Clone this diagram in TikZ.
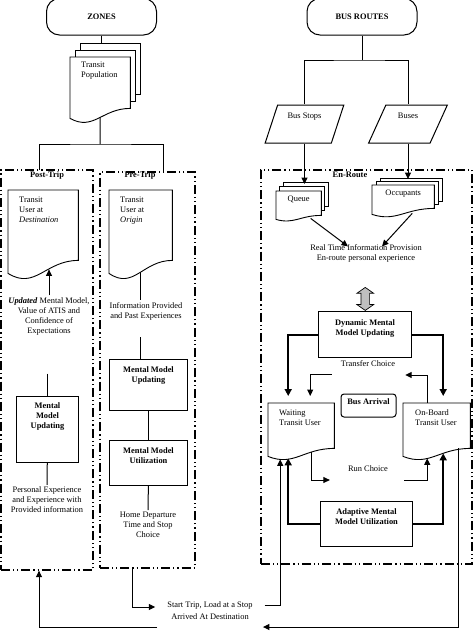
\documentclass[tikz,border=0pt]{standalone}
\usepackage{fontspec}
\setmainfont{Liberation Serif}
\usetikzlibrary{calc,arrows.meta,shapes.geometric,shapes.arrows,backgrounds}

\newcommand{\smallfont}{\fontsize{8.4}{10}\selectfont}
% text box of fixed size, text starting at its top
\newcommand{\toptxt}[4][6.5pt]{\parbox[c][#2][t]{#3}{\vspace*{#1}#4}}
% outline of a document sheet drawn round a node
\newcommand{\pageoutline}[2]{%
  \begin{pgfonlayer}{background}
    \draw[page] (#1.north west) -- (#1.north east) -- (#1.south east)
      .. controls ($(#1.south west)!0.53!(#1.south east)$)
      and ($(#1.south west)!0.39!(#1.south east)+(0,2.3*#2)$)
      .. ($(#1.south west)+(0,#2)$) -- cycle;
  \end{pgfonlayer}}
% the sheets stacked behind a document
\newcommand{\backpages}[3]{%
  \begin{pgfonlayer}{background}
    \foreach \k in {2,1}
      \draw[page] ($(#1.north west)+(\k*#2,\k*#3)$) rectangle ($(#1.south east)+(\k*#2,\k*#3)$);
  \end{pgfonlayer}}

\tikzstyle{link} = [draw,line width=1pt]
\tikzstyle{flow} = [link,-{Triangle[length=6.5pt,width=6pt]}]
\tikzstyle{heavy flow} = [draw,line width=2pt,-{Triangle[length=7pt,width=7pt]}]
\tikzstyle{page} = [draw,fill=white,line width=0.9pt]
\tikzstyle{sheet} = [inner sep=0pt,anchor=north west]
\tikzstyle{panel} = [draw,line width=1pt,inner sep=0pt,anchor=north west]
\tikzstyle{note} = [align=center,inner sep=2pt]
\tikzstyle{phase} = [draw,line width=1.3pt,inner sep=0pt,dash pattern=on 9pt off 3pt on 1.2pt off 3pt on 1.2pt off 3pt]
\tikzstyle{phase title} = [font=\smallfont\bfseries]
\tikzstyle{terminal} = [draw,line width=1pt,rounded corners=13pt,minimum width=110pt,minimum height=36.5pt,font=\smallfont\bfseries]
\tikzstyle{feed} = [draw,line width=1pt,trapezium,trapezium left angle=70,trapezium right angle=110,trapezium stretches=true,minimum width=79pt,minimum height=38pt,inner sep=0pt,text depth=16pt]
\tikzstyle{sync} = [double arrow,draw,fill=gray!50,line width=0.7pt,shape border rotate=90,minimum height=23pt,minimum width=16pt,inner sep=4pt,double arrow head extend=4pt,double arrow tip angle=110]

\begin{document}
\begin{tikzpicture}[x=1pt,y=-1pt,font=\smallfont]
\useasboundingbox (0,0) rectangle (474,637);

% sources
\node[terminal] (zones) at (101.5,16.75) {ZONES};
\node[terminal] (routes) at (362,16.75) {BUS ROUTES};
\node[sheet] (pop) at (70,57) {\toptxt[4.5pt]{51pt}{60pt}{\leftskip=11pt Transit\\Population}};
\backpages{pop}{5}{-7}
\pageoutline{pop}{10}

% phases
\node[phase,minimum width=92pt,minimum height=400pt] (post) at (47,370) {};
\node[phase,minimum width=95pt,minimum height=396pt] (pre) at (147.5,370) {};
\node[phase,minimum width=211pt,minimum height=394pt] (enroute) at (366.5,367) {};
\node[phase title] (posttitle) at (47,175) {Post-Trip};
\node[phase title] (pretitle) at (140,175) {Pre-Trip};
\node[phase title] (enroutetitle) at (350,175) {En-Route};

% post-trip
\node[sheet] (dest) at (8,190) {\toptxt{70pt}{70pt}{\leftskip=11pt Transit\\User at\\\textit{Destination}}};
\pageoutline{dest}{13}
\node[note] (updated) at (49,316.5) {\textbf{\textit{Updated}} Mental Model,\\Value of ATIS and\\Confidence of\\Expectations};
\node[panel] (mmupost) at (16,396) {\toptxt[6.5pt]{66pt}{62pt}{\centering\bfseries Mental\\Model\\Updating}};
\node[note] (personal) at (47,500) {Personal Experience\\and Experience with\\Provided information};

% pre-trip
\node[sheet] (origin) at (109,190) {\toptxt{70pt}{63pt}{\leftskip=11pt Transit\\User at\\\textit{Origin}}};
\pageoutline{origin}{13}
\node[note] (infoprov) at (146,311) {Information Provided\\and Past Experiences};
\node[panel] (mmupre) at (109,359) {\toptxt[7.5pt]{51pt}{78pt}{\centering\bfseries Mental Model\\Updating}};
\node[panel] (mmuse) at (109,440) {\toptxt[7.5pt]{45pt}{78pt}{\centering\bfseries Mental Model\\Utilization}};
\node[note] (homedep) at (148,525) {Home Departure\\Time and Stop\\Choice};

% en-route
\node[feed] (stops) at (304.5,124) {Bus Stops};
\node[feed] (buses) at (408,124) {Buses};
\node[sheet] (queue) at (276,191) {\toptxt[5pt]{24pt}{45pt}{\centering Queue}};
\backpages{queue}{3.5}{-4.5}
\pageoutline{queue}{4}
\node[sheet] (occupants) at (372,185) {\toptxt[5pt]{23pt}{62pt}{\centering Occupants}};
\backpages{occupants}{4}{-3.5}
\pageoutline{occupants}{6}
\node[note] (rtinfo) at (366,253.5) {Real Time Information Provision\\En-route personal experience};
\node[panel] (dynamic) at (318,311) {\toptxt[8pt]{46pt}{93pt}{\centering\bfseries Dynamic Mental\\Model Updating}};
\node[note] (transfer) at (368,364) {Transfer Choice};
\node[sheet] (waiting) at (268,403) {\toptxt{45pt}{66pt}{\leftskip=11pt Waiting\\Transit User}};
\pageoutline{waiting}{8}
\node[sheet] (onboard) at (403,403) {\toptxt{45pt}{67pt}{\leftskip=12pt On-Board\\Transit User}};
\pageoutline{onboard}{8}
\node[draw,line width=1pt,rounded corners=3pt,minimum width=55pt,minimum height=23pt,text depth=7.5pt,font=\smallfont\bfseries] (busarrival) at (368.5,405.5) {Bus Arrival};
\node[note] (runchoice) at (368,469) {Run Choice};
\node[panel] (adaptive) at (320,501) {\toptxt[7.5pt]{45pt}{92pt}{\centering\bfseries Adaptive Mental\\Model Utilization}};

% trip ends
\node[note] (starttrip) at (210,605) {Start Trip, Load at a Stop};
\node[note] (arrived) at (210,617) {Arrived At Destination};

% trees
\coordinate (zfork) at (100,144);
\coordinate (postjoin) at (39,170);
\coordinate (prejoin) at (163,172);
\draw[link,shorten >=14pt] (zones.south) -- (zones.south |- pop.north);
\draw[link,shorten <=9pt] (pop.south) -- (zfork);
\draw[link] (postjoin) |- (zfork) -| (prejoin);
\coordinate (rfork) at (362,60);
\draw[link] (routes.south) -- (rfork);
\draw[link] (stops.north) |- (rfork) -| (buses.north);
\draw[flow,shorten >=7pt] (stops.south) -- (stops.south |- queue.north);
\draw[flow,shorten >=6pt] (buses.south) -- (buses.south |- occupants.north);

% post-trip links
\draw[flow,shorten >=9pt] (updated.north) -- (updated.north |- dest.south);
\draw[link,shorten <=36pt] (mmupost.north |- updated.south) -- (mmupost.north);
\draw[link] (mmupost) -- (personal);

% pre-trip links
\draw[link,shorten <=12pt] (origin.south) -- (origin.south |- infoprov.north);
\draw[link,shorten <=15pt] (origin.south |- infoprov.south) -- (origin.south |- mmupre.north);
\draw[link] (mmupre) -- (mmuse);
\draw[link] (mmuse) -- (homedep);

% en-route links
\draw[flow] ($(queue.south)+(12,3)$) -- ($(rtinfo.north)+(-18,4)$);
\draw[flow] ($(occupants.south)+(9,5)$) -- ($(rtinfo.north)+(16,4)$);
\path (rtinfo.south) -- (dynamic.north) node[sync,pos=0.74] (exchange) {};
\draw[heavy flow,shorten >=7pt] (dynamic.west) -| ($(waiting.north)+(-13,0)$);
\draw[heavy flow,shorten >=7pt] (dynamic.east) -| ($(onboard.north)+(6.5,0)$);
\draw[flow] ($(onboard.north)+(-9.5,0)$) |- ($(transfer.east)+(8,11)$);
\draw[flow,shorten >=7pt] ($(transfer.west)+(-7,10)$) -| ($(waiting.north)+(9,0)$);
\draw[flow,shorten <=4pt] ($(waiting.south)+(10,0)$) |- ($(runchoice.west)+(-16,11)$);
\draw[flow,shorten >=10pt] ($(runchoice.east)+(14,11)$) -| ($(onboard.south)+(-9.5,0)$);
\draw[heavy flow,shorten >=10pt] (adaptive.west) -| ($(waiting.south)+(-13,0)$);
\draw[heavy flow,shorten >=5pt] (adaptive.east) -| ($(onboard.south)+(6.5,0)$);

% trip ends
\draw[flow] ($(pre.south)+(-15.5,0)$) |- ($(starttrip.west)+(-10,2)$);
\draw[flow,shorten >=11pt] ($(starttrip.east)+(10,0)$) -| ($(waiting.south)+(-21,0)$);
\draw[flow] ($(onboard.south east)+(-12,0)$) |- ($(arrived.east)+(12,10)$);
\draw[flow] ($(arrived.west)+(-12,10)$) -| (postjoin |- post.south);
\end{tikzpicture}
\end{document}
